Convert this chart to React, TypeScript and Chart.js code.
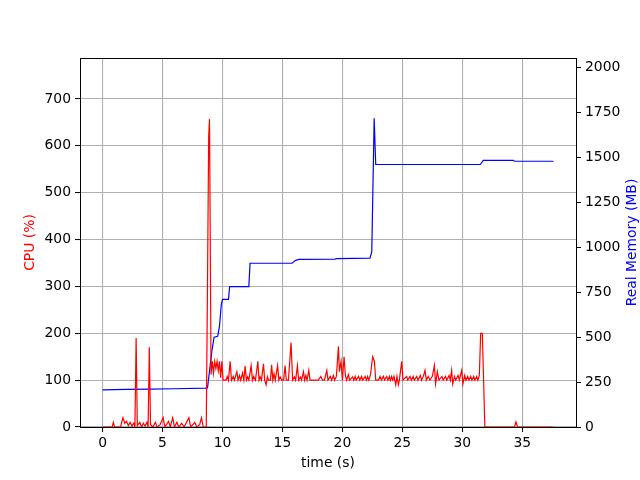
import { useEffect, useRef } from "react";
import { Chart, registerables } from "chart.js";

Chart.register(...registerables);

// sample times (s) and readings
const cpuTimes = [
  0, 0.8, 0.9, 1.0, 1.5, 1.7, 1.85, 2.0, 2.15, 2.3, 2.45, 2.6, 2.7, 2.8, 2.9,
  3.1, 3.25, 3.4, 3.55, 3.7, 3.8, 3.9, 4.0, 4.2, 4.4, 4.55, 4.8, 5.05, 5.2,
  5.5, 5.65, 5.85, 6.0, 6.2, 6.35, 6.6, 6.8, 7.2, 7.35, 7.7, 7.85, 8.1, 8.25,
  8.4, 8.65, 8.75, 8.85, 8.92, 9.05, 9.15, 9.25, 9.35, 9.45, 9.55, 9.65, 9.75,
  9.85, 9.95, 10.05, 10.3, 10.4, 10.5, 10.64, 10.75, 10.9, 11.0, 11.2, 11.3,
  11.42, 11.52, 11.67, 11.78, 11.89, 12.0, 12.1, 12.2, 12.39, 12.5, 12.6,
  12.75, 12.95, 13.05, 13.14, 13.25, 13.42, 13.52, 13.64, 13.75, 13.84, 14.0,
  14.1, 14.2, 14.3, 14.4, 14.6, 14.7, 14.81, 14.95, 15.1, 15.22, 15.32, 15.5,
  15.72, 15.85, 16.0, 16.1, 16.25, 16.35, 16.5, 16.6, 16.75, 16.85, 16.95,
  17.05, 17.2, 17.3, 18.0, 18.2, 18.35, 18.5, 18.7, 18.8, 19.0, 19.1, 19.25,
  19.35, 19.5, 19.67, 19.75, 19.89, 20.0, 20.14, 20.25, 20.35, 20.5, 20.6,
  20.85, 20.95, 21.06, 21.15, 21.34, 21.45, 21.6, 21.7, 21.9, 22.0, 22.1, 22.2,
  22.35, 22.45, 22.53, 22.67, 22.78, 23.0, 23.14, 23.25, 23.42, 23.52, 23.7,
  23.8, 23.92, 24.0, 24.1, 24.2, 24.3, 24.45, 24.55, 24.67, 24.75, 24.95,
  25.05, 25.36, 25.45, 25.64, 25.75, 25.9, 26.0, 26.2, 26.3, 26.5, 26.6, 26.75,
  26.89, 27.0, 27.15, 27.3, 27.5, 27.67, 27.77, 27.92, 28.05, 28.3, 28.4, 28.6,
  28.7, 28.9, 29.0, 29.11, 29.2, 29.35, 29.45, 29.65, 29.75, 29.95, 30.05,
  30.2, 30.3, 30.45, 30.55, 30.7, 30.8, 30.95, 31.05, 31.2, 31.3, 31.42, 31.53,
  31.67, 31.88, 34.35, 34.47, 34.6, 37.6,
];
const cpuValues = [
  0, 0, 10, 0, 0, 20, 8, 12, 3, 10, 2, 8, 0, 190, 3,
  10, 0, 8, 2, 10, 0, 170, 5, 0, 10, 0, 5, 20, 0,
  12, 0, 20, 0, 10, 0, 8, 0, 20, 0, 10, 0, 5, 20,
  0, 0, 300, 620, 657, 112, 140, 115, 140, 125, 140, 120, 140,
  105, 140, 100, 100, 108, 100, 140, 100, 108, 100, 118, 100,
  110, 100, 115, 100, 130, 100, 107, 100, 131, 100, 108,
  100, 140, 100, 107, 100, 135, 100, 90, 107, 100, 100,
  133, 100, 114, 100, 131, 100, 107, 100, 100, 131, 100, 100,
  180, 100, 107, 100, 131, 100, 107, 100, 118, 100, 110,
  100, 121, 100, 100, 108, 100, 100, 121, 100, 108, 100, 110,
  100, 108, 172, 118, 140, 100, 150, 110, 100, 112, 100,
  107, 100, 108, 100, 108, 100, 108, 100, 108, 100, 108, 100,
  112, 135, 150, 140, 100, 100, 108, 100, 108, 100, 108,
  100, 108, 100, 108, 100, 108, 90, 108, 90, 100, 140,
  100, 108, 100, 108, 100, 108, 100, 108, 100, 110, 100, 108,
  121, 100, 108, 100, 108, 131, 92, 118, 100, 108, 100, 108,
  100, 110, 100, 121, 92, 108, 100, 110, 100, 121, 92,
  110, 100, 108, 100, 108, 100, 108, 100, 108, 100, 110, 200,
  200, 0, 0, 11, 0, 0,
];

const memTimes = [
  0, 2, 4, 6, 8.6, 8.75, 8.9, 9.1, 9.3, 9.6, 9.75, 9.9, 10.0, 10.5, 10.6,
  12.2, 12.3, 15.8, 16.1, 16.4, 19.4, 19.5, 22.3, 22.45, 22.65, 22.78, 31.5,
  31.75, 34.25, 34.35, 37.6,
];
const memValues = [
  207, 209, 211, 213, 216, 217, 300, 415, 500, 505, 560, 680, 711, 711, 782,
  782, 912, 912, 928, 933, 935, 938, 940, 975, 1719, 1462, 1462,
  1485, 1485, 1480, 1480,
];

const timeTicks = [0, 5, 10, 15, 20, 25, 30, 35];
const cpuTicks = [0, 100, 200, 300, 400, 500, 600, 700];
const memTicks = [0, 250, 500, 750, 1000, 1250, 1500, 1750, 2000];

const FONT = "'DejaVu Sans', sans-serif";
const GRID = "#b0b0b0";

const frame = {
  id: "frame",
  afterDraw(chart: Chart) {
    const { ctx, chartArea: a } = chart;
    ctx.save();
    ctx.strokeStyle = "#000";
    ctx.lineWidth = 1;
    ctx.strokeRect(Math.round(a.left) + 0.5, Math.round(a.top) + 0.5,
      Math.round(a.right - a.left), Math.round(a.bottom - a.top));
    // right axis label, reading bottom-to-top like the left one
    ctx.translate(632, (a.top + a.bottom) / 2);
    ctx.rotate(-Math.PI / 2);
    ctx.fillStyle = "#0000ff";
    ctx.font = `13.9px ${FONT}`;
    ctx.textAlign = "center";
    ctx.textBaseline = "middle";
    ctx.fillText("Real Memory (MB)", 0, 0);
    ctx.restore();
  },
};

const fixTicks = (vals: number[]) => (scale: any) => {
  scale.ticks = vals.map((v) => ({ value: v }));
};
const plain = (v: any) => String(v);

export default function App() {
  const canvasRef = useRef<HTMLCanvasElement>(null);

  useEffect(() => {
    const canvas = canvasRef.current;
    if (!canvas) return;

    Chart.defaults.font.family = FONT;
    Chart.defaults.font.size = 13.9;
    Chart.defaults.color = "#000";

    const tickFont = { family: FONT, size: 13.9 };

    const chart = new Chart(canvas, {
      type: "line",
      data: {
        datasets: [
          {
            label: "CPU",
            data: cpuTimes.map((t, i) => ({ x: t, y: cpuValues[i] })),
            borderColor: "#ff0000",
            borderWidth: 1.2,
            pointRadius: 0,
            tension: 0,
            yAxisID: "y",
          },
          {
            label: "Memory",
            data: memTimes.map((t, i) => ({ x: t, y: memValues[i] })),
            borderColor: "#0000ff",
            borderWidth: 1.2,
            pointRadius: 0,
            tension: 0,
            yAxisID: "y1",
          },
        ],
      },
      options: {
        responsive: false,
        animation: false,
        events: [],
        layout: { padding: { top: 58, left: 0, right: 0, bottom: 0 } },
        plugins: { legend: { display: false }, tooltip: { enabled: false } },
        scales: {
          x: {
            type: "linear",
            min: -1.88,
            max: 39.48,
            afterBuildTicks: fixTicks(timeTicks),
            afterFit: (s: any) => { s.height = 53; },
            ticks: { font: tickFont, color: "#000", padding: 3, maxRotation: 0, callback: plain },
            grid: { color: GRID, lineWidth: 1.1, tickColor: "#000", tickLength: 5, tickWidth: 1 },
            border: { color: "#000", width: 1 },
            title: {
              display: true,
              text: "time (s)",
              color: "#000",
              font: tickFont,
              padding: { top: 0, bottom: 8.5 },
            },
          },
          y: {
            type: "linear",
            position: "left",
            min: 0,
            max: 787.5,
            afterBuildTicks: fixTicks(cpuTicks),
            afterFit: (s: any) => { s.width = 80; },
            ticks: { font: tickFont, color: "#000", padding: 4, callback: plain },
            grid: { color: GRID, lineWidth: 1.1, tickColor: "#000", tickLength: 5, tickWidth: 1 },
            border: { color: "#000", width: 1 },
            title: {
              display: true,
              text: "CPU (%)",
              color: "#ff0000",
              font: tickFont,
              padding: { top: 22.5, bottom: 0 },
            },
          },
          y1: {
            type: "linear",
            position: "right",
            min: 0,
            max: 2055,
            afterBuildTicks: fixTicks(memTicks),
            afterFit: (s: any) => { s.width = 64; },
            ticks: { font: tickFont, color: "#000", padding: 4, callback: plain },
            grid: { drawOnChartArea: false, tickColor: "#000", tickLength: 5, tickWidth: 1 },
            border: { color: "#000", width: 1 },
          },
        },
      },
      plugins: [frame],
    });

    return () => chart.destroy();
  }, []);

  return (
    <div style={{ position: "absolute", left: 0, top: 0, width: 640, height: 480, background: "#fff" }}>
      <canvas ref={canvasRef} width={640} height={480} />
    </div>
  );
}
